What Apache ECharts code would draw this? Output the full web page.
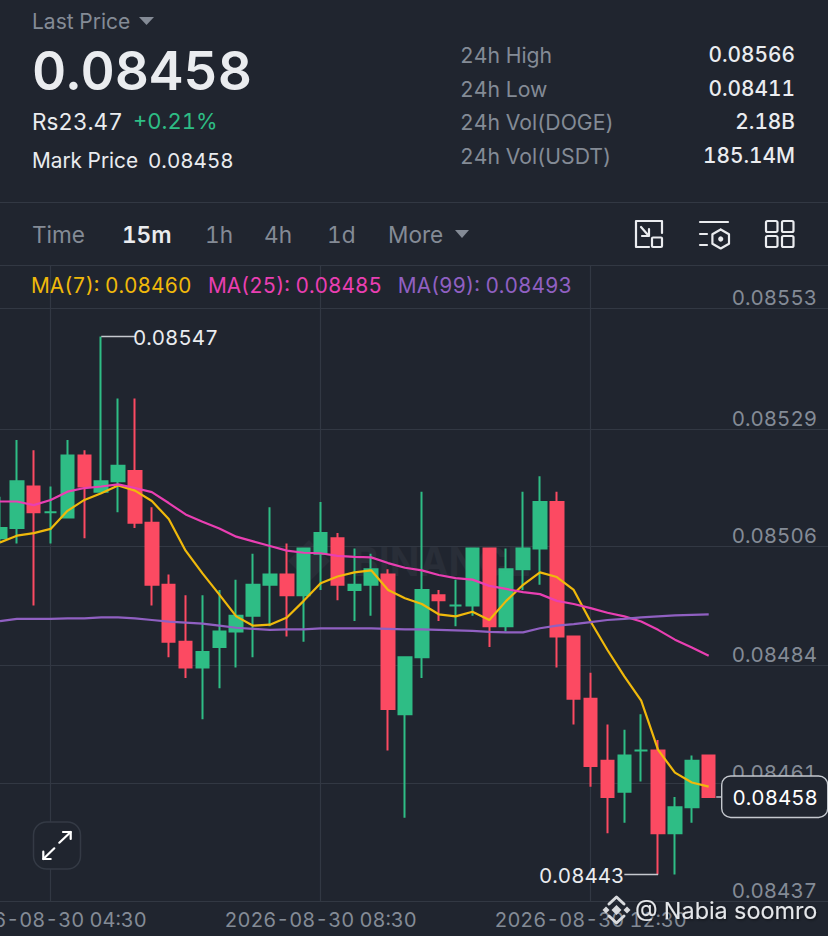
<!DOCTYPE html>
<html><head><meta charset="utf-8">
<style>html,body{margin:0;padding:0;background:#20252f}#c{width:828px;height:936px}
text{font-feature-settings:'tnum' 1 !important;font-variant-numeric:tabular-nums !important}</style>
<script src="https://cdn.jsdelivr.net/npm/echarts@6/dist/echarts.min.js"></script>
</head><body><div id="c"></div>
<script>
const timeLabels=['03:45','04:00','04:15','04:30','04:45','05:00','05:15','05:30','05:45','06:00','06:15','06:30','06:45','07:00','07:15','07:30','07:45','08:00','08:15','08:30','08:45','09:00','09:15','09:30','09:45','10:00','10:15','10:30','10:45','11:00','11:15','11:30','11:45','12:00','12:15','12:30','12:45','13:00','13:15','13:30','13:45','14:00','14:15','14:30','14:45','15:00','15:15','15:30','15:45','16:00','16:15'];
// [open, close, low, high]
const candles=[
[.08508,.08510,.08507,.08516],[.08510,.08519,.08507,.08527],[.08518,.08513,.08495,.08525],[.08513,.08513,.08507,.08518],
[.08512,.08524,.08512,.08527],[.08524,.08518,.08508,.08525],[.08517,.08519,.08517,.08547],[.08519,.08522,.08513,.08535],
[.08521,.08511,.08510,.08535],[.08511,.08499,.08495,.08514],[.08499,.08488,.08485,.08501],[.08488,.08483,.08481,.08497],
[.08483,.08486,.08473,.08497],[.08487,.08490,.08479,.08498],[.08490,.08493,.08483,.08500],[.08493,.08499,.08485,.08505],
[.08499,.08501,.08491,.08514],[.08501,.08497,.08489,.08507],[.08497,.08506,.08488,.08506],[.08505,.08509,.08498,.08515],
[.08508,.08499,.08496,.08509],[.08498,.08499,.08492,.08506],[.08499,.08502,.08493,.08505],[.08501,.08475,.08467,.08502],
[.08474,.08485,.08454,.08485],[.08485,.08498,.08481,.08517],[.08497,.08496,.08492,.08498],[.08495,.08495,.08491,.08500],
[.08495,.08506,.08493,.08506],[.08506,.08491,.08487,.08506],[.08491,.08502,.08490,.08506],[.08502,.08506,.08498,.08517],
[.08506,.08515,.08499,.08520],[.08515,.08489,.08483,.08517],[.08489,.08477,.08472,.08489],[.08477,.08464,.08460,.08482],
[.08465,.08458,.08451,.08472],[.08459,.08466,.08453,.08471],[.08467,.08467,.08461,.08474],[.08467,.08451,.08443,.08469],
[.08451,.08456,.08443,.08458],[.08456,.08465,.08453,.08466],[.08466,.08458,.08458,.08466]];
const ma7=[.085072,.085085,.085090,.085098,.085133,.085154,.085167,.085182,.085172,.085152,.085117,.085056,.085012,.084971,.084929,.084911,.084913,.084927,.084959,.084993,.085006,.085014,.085018,.084980,.084964,.084953,.084933,.084929,.084938,.084922,.084959,.084990,.085014,.085005,.084980,.084919,.084864,.084813,.084766,.084671,.084627,.084608,.084600];
const ma25=[.085151,.085151,.085144,.085154,.085170,.085177,.085180,.085184,.085177,.085169,.085148,.085126,.085112,.085099,.085083,.085074,.085065,.085056,.085052,.085051,.085046,.085044,.085043,.085032,.085023,.085018,.085009,.085003,.085000,.084988,.084982,.084976,.084972,.084959,.084953,.084945,.084936,.084929,.084919,.084903,.084884,.084869,.084853];
const ma99=[.084920,.084924,.084924,.084924,.084925,.084925,.084927,.084927,.084925,.084922,.084919,.084917,.084915,.084911,.084907,.084905,.084903,.084904,.084904,.084906,.084906,.084906,.084906,.084905,.084904,.084904,.084903,.084902,.084901,.084899,.084898,.084898,.084906,.084911,.084914,.084918,.084922,.084924,.084927,.084929,.084931,.084932,.084933];
const yTickValues=[.084379,.084607,.084835,.085065,.085291,.085525];
const yTickLabels=['0.08437','0.08461','0.08484','0.08506','0.08529','0.08553'];
const maLabels={'MA(7)':'MA(7): 0.08460','MA(25)':'MA(25): 0.08485','MA(99)':'MA(99): 0.08493'};
const statNames=['24h High','24h Low','24h Vol(DOGE)','24h Vol(USDT)'];
const statValues=['0.08566','0.08411','2.18B','185.14M'];
const periods=['Time','15m','1h','4h','1d','More'];
const highMark=.08547, lowMark=.08443, lastPrice=.08458;
const highIndex=6, lowIndex=39, lastIndex=42;

const FF='Inter, "Noto Sans", sans-serif';
const BG='#20252f', GRAY='#848b96', WHITE='#eaecef', GREEN='#2ebd85', RED='#fc4a62', LINE='#323843';
const categories=timeLabels.map(t=>'2026-08-30 '+t);
const showTick=i=>(i-3)%16===0;

function txt(text,x,y,size,fill,extra){return Object.assign({type:'text',style:{text,x,y:y+0.5,fill,font:(extra&&extra.weight||'400')+' '+size+'px '+FF,textAlign:extra&&extra.align||'left',textVerticalAlign:'middle'}},extra&&extra.z?{z:extra.z}:{});}
function poly(points,stroke,lw,z){return {type:'polyline',shape:{points},style:{stroke,lineWidth:lw||2.2,fill:null,lineCap:'round',lineJoin:'round'},z:z||1};}
function rr(x,y,w,h,r,stroke,lw,fill,z){return {type:'rect',shape:{x,y,width:w,height:h,r},style:{stroke,lineWidth:lw,fill:fill||null},z:z||1};}
function tri(x,y,w,h,fill){return {type:'polygon',shape:{points:[[x,y],[x+w,y],[x+w/2,y+h]]},style:{fill}};}
const periodX=[32,122,205,264,327,388];
const statY=[54,88,121,155];
const ICON='#eaecef';
const g=[
  rr(-2,202.5,832,63,0,LINE,1.2),
  txt('Last Price',32,21,21,GRAY), tri(139,17,15,8,GRAY),
  txt('0.08458',32,70,53,WHITE,{weight:'600'}),
  txt('Rs23.47',32,120.5,22.5,WHITE), txt('+0.21%',133,120.5,22,GREEN),
  txt('Mark Price',32,160,20.8,WHITE), txt('0.08458',148,160,20.6,WHITE),
  ...statNames.map((s,i)=>txt(s,460,statY[i],21.2,GRAY)),
  ...statValues.map((s,i)=>txt(s,795,statY[i],20.8,WHITE,{align:'right',weight:'500'})),
  ...periods.map((p,i)=>txt(p,periodX[i],234,22.6,i===1?WHITE:GRAY,{weight:i===1?'600':'400'})),
  tri(455,230,14,8,GRAY),
  // toolbar icons
  poly([[662,233],[662,221],[636,221],[636,247],[649,247]],ICON),
  rr(652,237.5,10,9.5,1,ICON,2.2),
  poly([[641,227],[648,235]],ICON), poly([[649,229],[649,236],[642,236]],ICON),
  poly([[700,222],[728,222]],ICON), poly([[700,234],[707,234]],ICON), poly([[700,245],[707,245]],ICON),
  poly([[720.7,229.5],[729,234.3],[729,243.7],[720.7,248.5],[712.4,243.7],[712.4,234.3],[720.7,229.5]],ICON),
  {type:'circle',shape:{cx:720.7,cy:239,r:2.6},style:{fill:ICON},z:1},
  rr(766,221,11.5,11,1.5,ICON,2.2), rr(782,221,11.5,11,1.5,ICON,2.2), rr(766,236,11.5,11,1.5,ICON,2.2), rr(782,236,11.5,11,1.5,ICON,2.2),
  // watermark behind the candles
  {type:'polygon',shape:{points:[[309,540],[330,561],[309,582],[288,561]]},style:{fill:'#282d37'},z:0},
  Object.assign(txt('BINANCE',353,561,39,'#292e38',{weight:'700'}),{z:0}),
  // expand button
  rr(33.5,822,47,47,13,'#343a45',1.5,BG,3),
  poly([[59.3,842.7],[70.7,832]],'#fff',2.2,4), poly([[63,832],[70.7,832],[70.7,839]],'#fff',2.2,4),
  poly([[54.3,848.3],[43.3,859]],'#fff',2.2,4), poly([[43.3,851.7],[43.3,859],[50.7,859]],'#fff',2.2,4),
  // user watermark
  poly([[609,904],[616.5,897],[624,904]],'#d8dadd',3,20), poly([[609,916],[616.5,923],[624,916]],'#d8dadd',3,20),
  {type:'polygon',shape:{points:[[616.5,905],[621.5,910],[616.5,915],[611.5,910]]},style:{fill:'#d8dadd'},z:20},
  {type:'polygon',shape:{points:[[606,906.5],[609.5,910],[606,913.5],[602.5,910]]},style:{fill:'#d8dadd'},z:20},
  {type:'polygon',shape:{points:[[627,906.5],[630.5,910],[627,913.5],[623.5,910]]},style:{fill:'#d8dadd'},z:20},
  {type:'text',z:20,style:{text:'@ Nabia soomro',x:635,y:910.5,fill:'#e4e6e9',font:'400 23.4px '+FF,textVerticalAlign:'middle',textShadowColor:'rgba(0,0,0,.55)',textShadowBlur:3,textShadowOffsetX:1,textShadowOffsetY:1}}
];
const maColors={'MA(7)':'#f0b90b','MA(25)':'#e93fb2','MA(99)':'#9060c2'};
const maSeries=(name,data)=>({name,type:'line',data,showSymbol:false,symbol:'none',smooth:false,z:5,silent:true,lineStyle:{width:2.2,color:maColors[name]},itemStyle:{color:maColors[name]}});
const markLabel={color:WHITE,fontFamily:FF,fontSize:20.5,distance:0,formatter:p=>p.value!==undefined?Number(p.value).toFixed(5):''};
const option={
  animation:false,backgroundColor:BG,
  textStyle:{fontFamily:FF},
  legend:{left:26,top:274.5,itemWidth:0,itemHeight:0,itemGap:16.5,selectedMode:false,icon:'none',padding:0,
    data:Object.keys(maLabels).map(n=>({name:n,textStyle:{color:maColors[n],fontSize:20.8,fontFamily:FF}})),
    formatter:n=>maLabels[n]},
  grid:{left:0,top:265,width:843.7,height:636,containLabel:false,outerBoundsMode:'none'},
  xAxis:{type:'category',data:categories,boundaryGap:false,
    axisLine:{show:false},axisTick:{show:false},
    axisLabel:{interval:(i)=>showTick(i),color:GRAY,fontSize:20,fontFamily:FF,margin:9,hideOverlap:false},
    splitLine:{show:true,interval:(i)=>showTick(i),lineStyle:{color:LINE,width:1.2}}},
  yAxis:{type:'value',position:'right',min:.084379,max:.085608,scale:true,
    axisLine:{show:false},axisTick:{show:false,customValues:yTickValues},
    axisLabel:{inside:true,customValues:yTickValues,align:'right',verticalAlign:'bottom',margin:26.7,padding:0,color:GRAY,fontSize:20.5,fontFamily:FF,
      formatter:(v)=>yTickLabels[yTickValues.indexOf(v)]},
    splitLine:{show:true,lineStyle:{color:LINE,width:1.2}}},
  graphic:{elements:g},
  series:[
    {name:'Price',type:'candlestick',data:candles,barWidth:13,z:3,silent:true,
      itemStyle:{color:GREEN,color0:RED,borderColor:GREEN,borderColor0:RED,borderColorDoji:GREEN,borderWidth:2},
      markLine:{silent:true,symbol:'none',animation:false,lineStyle:{color:'#c5c9cf',width:1.4,type:'solid'},
        label:{show:false},
        data:[
          [{coord:[highIndex,highMark],value:highMark,label:Object.assign({show:true,position:'end',offset:[-2,1]},markLabel)},{coord:[highIndex+2,highMark]}],
          [{coord:[lowIndex,lowMark],value:lowMark,label:Object.assign({show:true,position:'end',offset:[0,1]},markLabel)},{coord:[lowIndex-2,lowMark]}]
        ]}},
    maSeries('MA(7)',ma7),maSeries('MA(25)',ma25),maSeries('MA(99)',ma99),
    {name:'Last',type:'custom',z:8,silent:true,clip:false,data:[[lastIndex,lastPrice]],encode:{x:0,y:1},
      renderItem:(params,api)=>{
        const p=api.coord([api.value(0),api.value(1)]);
        return {type:'group',children:[
          {type:'line',shape:{x1:p[0]+7.5,y1:p[1],x2:p[0]+13,y2:p[1]},style:{stroke:'#c5c9cf',lineWidth:1.4}},
          {type:'rect',shape:{x:p[0]+13,y:p[1]-21,width:106,height:41.5,r:9},style:{fill:BG,stroke:'#c5c9cf',lineWidth:1.4}},
          {type:'text',style:{text:lastPrice.toFixed(5),x:p[0]+66.5,y:p[1]+1,fill:'#fff',font:'400 20.5px '+FF,textAlign:'center',textVerticalAlign:'middle'}}
        ]};
      }}
  ]
};
const chart=echarts.init(document.getElementById('c'),null,{renderer:'svg',width:828,height:936});
chart.setOption(option);
</script></body></html>
